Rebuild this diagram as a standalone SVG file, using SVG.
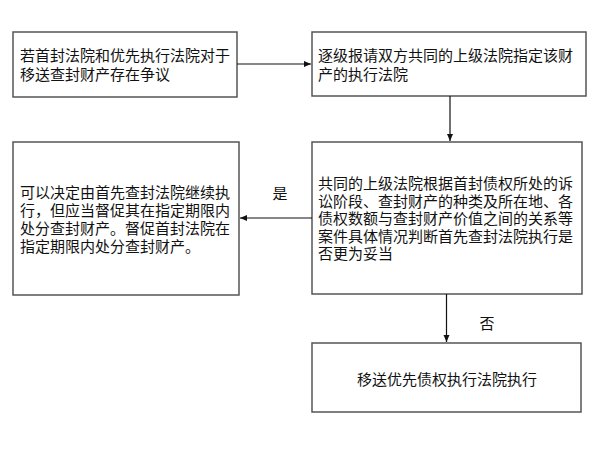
<svg xmlns="http://www.w3.org/2000/svg" width="600" height="450" viewBox="0 0 600 450">
<style>
.box{fill:#fff;stroke:#555;stroke-width:1.5}
.t{font-family:"Liberation Sans","Noto Sans CJK SC",sans-serif;font-size:15px;fill:#111}
.c{stroke:#111;stroke-width:1.2;fill:none}
</style>
<defs>
<marker id="ah" markerWidth="8" markerHeight="8" refX="7" refY="4" orient="auto" markerUnits="userSpaceOnUse">
<path d="M0,1 L7,4 L0,7 Z" fill="#111"/>
</marker>
</defs>
<rect width="600" height="450" fill="#fff"/>
<g id="n1">
<rect class="box" x="13" y="32" width="224" height="65"/>
<text class="t" x="20" y="61">若首封法院和优先执行法院对于</text>
<text class="t" x="20" y="80">移送查封财产存在争议</text>
</g>
<g id="n2">
<rect class="box" x="312" y="32" width="274" height="64"/>
<text class="t" x="318" y="61">逐级报请双方共同的上级法院指定该财</text>
<text class="t" x="318" y="80">产的执行法院</text>
</g>
<g id="n3">
<rect class="box" x="13" y="142" width="226" height="153"/>
<text class="t" x="20" y="198">可以决定由首先查封法院继续执</text>
<text class="t" x="20" y="216">行，但应当督促其在指定期限内</text>
<text class="t" x="20" y="234">处分查封财产。督促首封法院在</text>
<text class="t" x="20" y="252">指定期限内处分查封财产。</text>
</g>
<g id="n4">
<rect class="box" x="312" y="142" width="270" height="152"/>
<text class="t" x="318" y="189">共同的上级法院根据首封债权所处的诉</text>
<text class="t" x="318" y="206.5">讼阶段、查封财产的种类及所在地、各</text>
<text class="t" x="318" y="224">债权数额与查封财产价值之间的关系等</text>
<text class="t" x="318" y="241.5">案件具体情况判断首先查封法院执行是</text>
<text class="t" x="318" y="259">否更为妥当</text>
</g>
<g id="n5">
<rect class="box" x="312" y="343" width="269" height="69"/>
<text class="t" x="447" y="385" text-anchor="middle">移送优先债权执行法院执行</text>
</g>
<g id="connectors">
<line class="c" x1="237" y1="64" x2="311" y2="64" marker-end="url(#ah)"/>
<line class="c" x1="450" y1="96" x2="450" y2="141" marker-end="url(#ah)"/>
<line class="c" x1="312" y1="218" x2="240" y2="218" marker-end="url(#ah)"/>
<line class="c" x1="446.5" y1="294" x2="446.5" y2="342" marker-end="url(#ah)"/>
<text class="t" x="280" y="199" text-anchor="middle">是</text>
<text class="t" x="487" y="329" text-anchor="middle">否</text>
</g>
</svg>
